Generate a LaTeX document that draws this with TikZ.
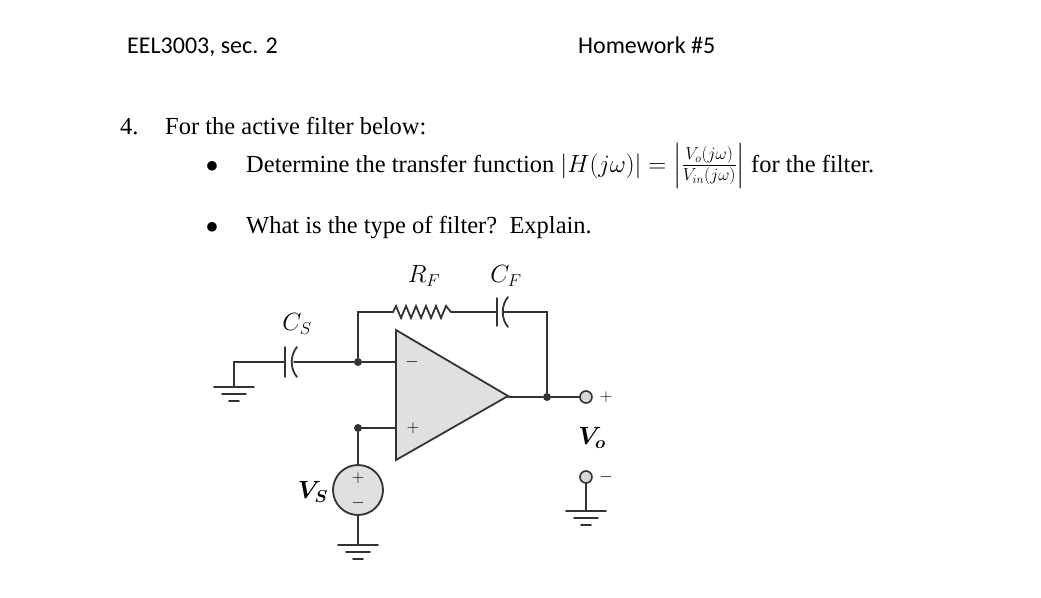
\documentclass[tikz,border=0pt]{standalone}
\usepackage{amsmath,bm}
\usepackage{fontspec}
\setmainfont{Liberation Serif}
\newfontfamily\hdr{Carlito}
\begin{document}
\begin{tikzpicture}[x=1pt,y=-1pt,
  wire/.style={line width=1.8pt,line cap=round,draw=black!80},
  dot/.style={circle,fill=black!80,inner sep=0pt,minimum size=8pt},
  term/.style={circle,draw=black!80,line width=1.6pt,fill=black!15,inner sep=0pt,minimum size=12pt},
  txt/.style={anchor=base west,inner sep=0pt,font=\fontsize{24.5}{28}\selectfont},
  lab/.style={inner sep=0pt,font=\fontsize{25}{28}\selectfont}]
\useasboundingbox (0,0) rectangle (1041,597);
\fill[white] (0,0) rectangle (1041,597);
% header
\node[txt,font=\hdr\fontsize{24}{28}\selectfont] (h1) at (127,53) {EEL3003, sec. 2};
\node[txt,font=\hdr\fontsize{24}{28}\selectfont] (h2) at (578,53) {Homework \#5};
\node[txt] (qn) at (120,134) {4.};
\node[txt] (q) at (165,134) {For the active filter below:};
\node[lab] (b1) at (212,167) {$\bullet$};
\node[txt] (t1) at (246,172) {Determine the transfer function $|H(j\omega)| = \left|\frac{V_o(j\omega)}{V_{in}(j\omega)}\right|$ for the filter.};
\node[lab] (b2) at (212,228) {$\bullet$};
\node[txt] (t2) at (246,233) {What is the type of filter?\, Explain.};
% opamp
\fill[black!12] (396,330) -- (508,396) -- (396,460) -- cycle;
\draw[wire] (396,330) -- (508,396) -- (396,460) -- cycle;
\node[lab,font=\fontsize{18}{20}\selectfont] (mn) at (412,362) {$-$};
\node[lab,font=\fontsize{18}{20}\selectfont] (pl) at (413,428) {$+$};
% nodes
\node[dot] (n1) at (358,362) {};
\node[dot] (n2) at (358,428) {};
\node[dot] (n3) at (547,397) {};
\coordinate (inm) at (396,362);
\coordinate (inp) at (396,428);
\coordinate (out) at (508,397);
\node[term] (tp) at (586,397) {};
\node[term] (tm) at (586,477) {};
\node[circle,draw=black!80,line width=1.8pt,fill=black!12,minimum size=50pt,inner sep=0pt] (vs) at (358,490) {};
\node[lab,font=\fontsize{18}{20}\selectfont] at (358,478) {$+$};
\node[lab,font=\fontsize{18}{20}\selectfont] at (358,503) {$-$};
% wires
\draw[wire] (n1) -- (inm);
\draw[wire] (n2) -- (inp);
\draw[wire] (out) -- (n3) -- (tp);
\draw[wire] (n2) -- (vs);
\draw[wire] (vs) -- (358,545);
% feedback
\draw[wire] (n1) -- (358,312) -- (393,312)
  -- (396,306) -- (401,318) -- (406,306) -- (411,318) -- (416,306) -- (421,318) -- (426,306) -- (431,318) -- (436,306) -- (441,318) -- (446,306) -- (451,312)
  -- (497,312);
\draw[wire] (497,298) -- (497,326);
\draw[wire] (508,297) .. controls (501,305) and (501,319) .. (508,327);
\draw[wire] (503,312) -- (547,312) -- (n3);
% Cs
\draw[wire] (n1) -- (294,362);
\draw[wire] (297,347) .. controls (290,355) and (290,369) .. (297,377);
\draw[wire] (285,347) -- (285,377);
\draw[wire] (285,362) -- (234,362) -- (234,387);
% grounds
\foreach \gx/\gy in {234/387,358/545,586/511}{
  \draw[wire] (\gx-20,\gy) -- (\gx+20,\gy);
  \draw[wire] (\gx-12,\gy+7) -- (\gx+12,\gy+7);
  \draw[wire] (\gx-5,\gy+14) -- (\gx+5,\gy+14);
}
\draw[wire] (tm) -- (586,511);
% labels
\node[lab] (rf) at (424,276) {$R_F$};
\node[lab] (cf) at (506,276) {$C_F$};
\node[lab] (cs) at (297,324) {$C_S$};
\node[lab] (vsl) at (313,492) {$\bm{V_S}$};
\node[lab] (vo) at (592,438) {$\bm{V_o}$};
\node[lab,font=\fontsize{18}{20}\selectfont] at (606,397) {$+$};
\node[lab,font=\fontsize{18}{20}\selectfont] at (606,477) {$-$};
\end{tikzpicture}
\end{document}
